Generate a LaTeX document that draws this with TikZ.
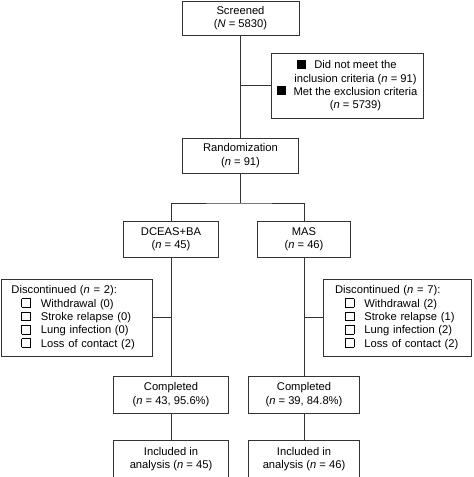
\documentclass[tikz,border=0pt]{standalone}
\usepackage{fontspec}
\setmainfont{Liberation Sans}
\usetikzlibrary{positioning,shapes,backgrounds}

\newcommand{\chkbox}{{\setlength{\fboxsep}{0pt}\setlength{\fboxrule}{0.7pt}\fbox{\phantom{\rule{8pt}{8pt}}}}}
\newcommand{\fullsq}{\rule{9pt}{9pt}}

\begin{document}
\begin{tikzpicture}[node distance=40pt]
    \tikzset{
        mybox/.style = {rectangle, line width=0.9pt, draw=black!80, align=center, inner sep=2pt,
                        font=\fontsize{11.2}{13.3}\selectfont},
        listbox/.style = {mybox, align=left, inner ysep=3pt},
        line/.style = {line width=0.9pt, draw=black!80},
    }
    \useasboundingbox [fill=white] (0,0) rectangle (474pt,-477pt);

    \node (screened) [mybox, minimum width=117pt, minimum height=34pt] at (240.5pt,-18pt) {Screened\\(\textit{N} = 5830)};
    \node (excl) [mybox, minimum width=152pt, minimum height=65pt, below of=screened, xshift=106.5pt, yshift=-27.5pt]
        {\fullsq\hspace{8pt}Did not meet the\\
         \hspace*{17pt}inclusion criteria (\textit{n} = 91)\\
         \fullsq\hspace{8pt}Met the exclusion criteria\\
         \hspace*{17pt}(\textit{n} = 5739)};
    \node (random) [mybox, minimum width=116pt, minimum height=35pt, below of=screened, yshift=-97.5pt] {Randomization\\(\textit{n} = 91)};
    \coordinate[below of=random, yshift=-7.5pt] (split);

    \node (dceas) [mybox, minimum width=95pt, minimum height=36pt, below of=random, xshift=-69.5pt, yshift=-43.5pt] {DCEAS+BA\\(\textit{n} = 45)};
    \node (mas) [mybox, minimum width=93pt, minimum height=36pt, below of=random, xshift=63.5pt, yshift=-43.5pt] {MAS\\(\textit{n} = 46)};

    \node (discl) [listbox, text width=131pt, inner xsep=10pt, minimum height=77pt, below of=dceas, xshift=-94pt, yshift=-38.5pt]
        {Discontinued (\textit{n} = 2):\\
         \hspace*{10pt}\chkbox\hspace{10pt}Withdrawal (0)\\
         \hspace*{10pt}\chkbox\hspace{10pt}Stroke relapse (0)\\
         \hspace*{10pt}\chkbox\hspace{10pt}Lung infection (0)\\
         \hspace*{10pt}\chkbox\hspace{10pt}Loss of contact (2)};
    \node (discr) [listbox, text width=124pt, inner xsep=12pt, minimum height=77pt, below of=mas, xshift=93pt, yshift=-38.5pt]
        {Discontinued (\textit{n} = 7):\\
         \hspace*{10pt}\chkbox\hspace{10pt}Withdrawal (2)\\
         \hspace*{10pt}\chkbox\hspace{10pt}Stroke relapse (1)\\
         \hspace*{10pt}\chkbox\hspace{10pt}Lung infection (2)\\
         \hspace*{10pt}\chkbox\hspace{10pt}Loss of contact (2)};

    \node (done1) [mybox, minimum width=115pt, minimum height=37pt, below of=dceas, yshift=-115.5pt] {Completed\\(\textit{n} = 43, 95.6\%)};
    \node (done2) [mybox, minimum width=111pt, minimum height=37pt, below of=mas, yshift=-115.5pt] {Completed\\(\textit{n} = 39, 84.8\%)};
    \node (incl1) [mybox, minimum width=115pt, minimum height=38pt, below of=done1, yshift=-24.5pt] {Included in\\analysis (\textit{n} = 45)};
    \node (incl2) [mybox, minimum width=111pt, minimum height=38pt, below of=done2, yshift=-24.5pt] {Included in\\analysis (\textit{n} = 46)};

    % trunk
    \draw [line] (screened) -- (random);
    \draw [line] (excl.west) -- (excl.west -| screened);
    \draw [line] (random) -- (split);
    \draw [line] (dceas) |- (split) -| (mas);

    % arms
    \draw [line] (dceas) -- (done1);
    \draw [line] (mas) -- (done2);
    \draw [line] (discl.east) -- (discl.east -| dceas);
    \draw [line] (discr.west) -- (discr.west -| mas);
    \draw [line] (done1) -- (incl1);
    \draw [line] (done2) -- (incl2);
\end{tikzpicture}
\end{document}
